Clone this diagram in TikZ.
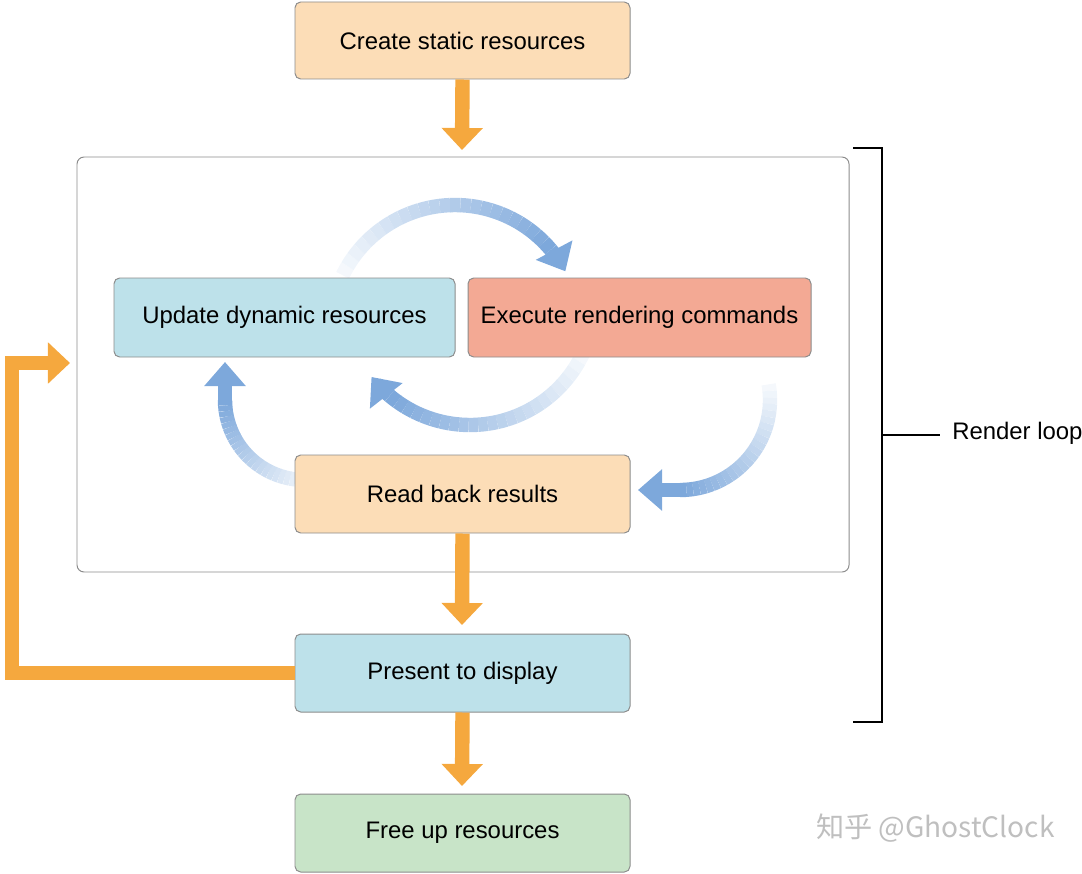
\documentclass[tikz,border=0pt]{standalone}
\usepackage{fontspec}
\setmainfont{Liberation Sans}
\newfontfamily\cjk{Noto Sans CJK SC}
\usetikzlibrary{arrows.meta,calc}
\definecolor{peach}{HTML}{FCDDB7}
\definecolor{lblue}{HTML}{BDE1EA}
\definecolor{salmon}{HTML}{F3A994}
\definecolor{lgreen}{HTML}{C8E4C8}
\definecolor{orng}{HTML}{F5A83E}
\definecolor{bluA}{HTML}{7DA8DB}
\newcommand{\garc}[5]{%
 \foreach \i in {0,...,23}{%
  \pgfmathsetmacro{\sa}{#4+(#5-#4)*\i/24}%
  \pgfmathsetmacro{\ea}{#4+(#5-#4)*(\i+1)/24}%
  \pgfmathsetmacro{\pc}{8+92*\i/23}%
  \draw[line width=0.36cm, bluA!\pc!white] ($(#1,#2)+(\sa:#3)$) arc[start angle=\sa, end angle=\ea, radius=#3];
 }}
\begin{document}
\begin{tikzpicture}[x=0.025cm,y=-0.025cm,
  box/.style={draw=black!45, rounded corners=4pt, line width=0.7pt, font=\fontsize{17}{20}\selectfont, inner sep=0pt},
  oarr/.style={orng, line width=0.36cm, -{Triangle[width=1cm,length=0.55cm]}}]
\useasboundingbox (0,0) rectangle (1082,873);
\node[box, fill=peach, minimum width=335*0.025cm, minimum height=77*0.025cm] (create) at (462.5,40.5) {\raisebox{-2pt}{Create static resources}};
\node[draw=black!45, rounded corners=5pt, line width=0.7pt, minimum width=772*0.025cm, minimum height=415*0.025cm] (frame) at (463,364.5) {};
\garc{455}{330}{125}{-154}{-40}
\draw[bluA, line width=0.36cm, -{Triangle[width=1cm,length=0.6cm]}] ($(455,330)+(-40:125)$) arc[start angle=-40, end angle=-28, radius=125];
\garc{470}{300}{125}{25}{130}
\draw[bluA, line width=0.36cm, -{Triangle[width=1cm,length=0.6cm]}] ($(470,300)+(130:125)$) arc[start angle=130, end angle=142, radius=125];
\garc{305}{400}{80}{85}{180}
\draw[bluA, line width=0.36cm, -{Triangle[width=1cm,length=0.6cm]}] (225,400) -- (225,362);
\garc{680}{400}{90}{-10}{90}
\draw[bluA, line width=0.36cm, -{Triangle[width=1cm,length=0.6cm]}] (680,490) -- (638,490);
\node[box, fill=lblue, minimum width=341*0.025cm, minimum height=79*0.025cm] (update) at (284.5,317.5) {\raisebox{-2pt}{Update dynamic resources}};
\node[box, fill=salmon, minimum width=343*0.025cm, minimum height=79*0.025cm] (exec) at (639.5,317.5) {\raisebox{-2pt}{Execute rendering commands}};
\node[box, fill=peach, minimum width=335*0.025cm, minimum height=78*0.025cm] (read) at (462.5,494) {\raisebox{-2pt}{Read back results}};
\node[box, fill=lblue, minimum width=335*0.025cm, minimum height=78*0.025cm] (present) at (462.5,673) {\raisebox{-2pt}{Present to display}};
\node[box, fill=lgreen, minimum width=335*0.025cm, minimum height=78*0.025cm] (free) at (462.5,833) {\raisebox{-2pt}{Free up resources}};
\coordinate (fin) at (462,150);
\draw[oarr] (create.south) -- (fin);
\coordinate (pin) at (462,625);
\draw[oarr] (read.south) -- (pin);
\coordinate (fr) at (462,786);
\draw[oarr] (present.south) -- (fr);
\coordinate (l1) at (12,673); \coordinate (l2) at (12,363); \coordinate (l3) at (70,363);
\draw[orng, line width=0.36cm, -{Triangle[width=1cm,length=0.55cm]}] (present.west) -- (l1) -- (l2) -- (l3);
\coordinate (b1) at (853,148); \coordinate (b2) at (882,148); \coordinate (b3) at (882,722); \coordinate (b4) at (853,722);
\coordinate (bm) at (882,435); \coordinate (bt) at (940,435);
\draw[line width=1.2pt] (b1) -- (b2) -- (b3) -- (b4);
\draw[line width=1.2pt] (bm) -- (bt);
\node[anchor=west, font=\fontsize{17}{20}\selectfont, inner sep=0pt] (rl) at (952,433) {Render loop};
\node[anchor=east, font=\fontsize{20}{24}\selectfont\cjk, text=black!25, inner sep=0pt] (wm) at (1055,828) {知乎 @GhostClock};
\end{tikzpicture}
\end{document}
